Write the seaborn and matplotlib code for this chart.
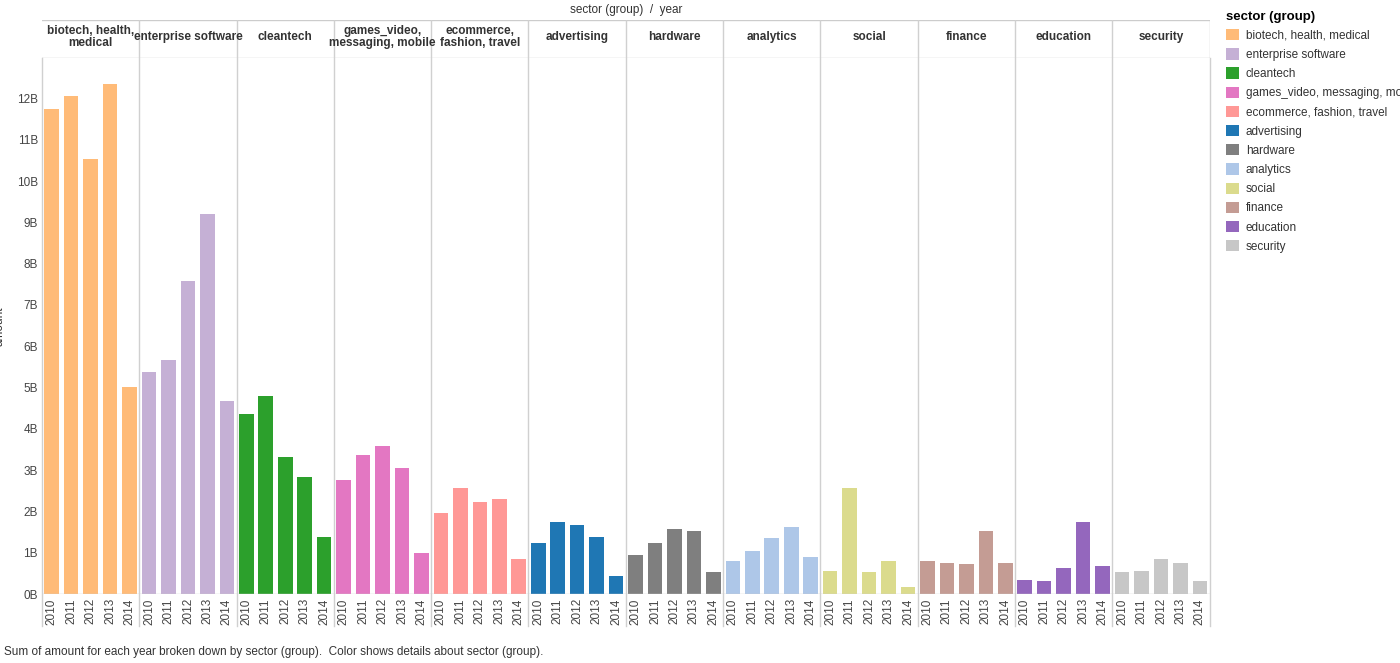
import numpy as np
import pandas as pd
import matplotlib
matplotlib.use("Agg")
import matplotlib.pyplot as plt
from matplotlib.patches import Patch
import seaborn as sns

plt.rcParams["font.family"] = "Liberation Sans"

sectors = ["biotech, health, medical", "enterprise software", "cleantech",
           "games_video, messaging, mobile", "ecommerce, fashion, travel",
           "advertising", "hardware", "analytics", "social", "finance",
           "education", "security"]
header_labels = ["biotech, health,\nmedical", "enterprise software", "cleantech",
                 "games_video,\nmessaging, mobile", "ecommerce,\nfashion, travel",
                 "advertising", "hardware", "analytics", "social", "finance",
                 "education", "security"]
years = ["2010", "2011", "2012", "2013", "2014"]
# amount in billions per sector, years 2010-2014
biotech = [11.74, 12.06, 10.53, 12.35, 5.02]
enterprise = [5.38, 5.67, 7.58, 9.20, 4.67]
cleantech = [4.35, 4.79, 3.31, 2.83, 1.38]
games = [2.76, 3.36, 3.58, 3.06, 0.99]
ecommerce = [1.96, 2.56, 2.22, 2.30, 0.85]
advertising = [1.23, 1.74, 1.66, 1.38, 0.44]
hardware = [0.94, 1.23, 1.58, 1.52, 0.53]
analytics = [0.81, 1.04, 1.35, 1.63, 0.90]
social = [0.57, 2.57, 0.53, 0.81, 0.17]
finance = [0.81, 0.74, 0.72, 1.52, 0.76]
education = [0.34, 0.31, 0.62, 1.74, 0.69]
security = [0.53, 0.56, 0.85, 0.76, 0.31]
values = [biotech, enterprise, cleantech, games, ecommerce, advertising,
          hardware, analytics, social, finance, education, security]
colors = ["#ffbb78", "#c5b0d5", "#2ca02c", "#e377c2", "#ff9896", "#1f77b4",
          "#7f7f7f", "#aec7e8", "#dbdb8d", "#c49c94", "#9467bd", "#c7c7c7"]

rows = []
for s, vals in zip(sectors, values):
    for y, v in zip(years, vals):
        rows.append({"key": f"{s}|{y}", "sector": s, "year": y, "amount": v})
df = pd.DataFrame(rows)

fig = plt.figure(figsize=(14, 6.63), dpi=100)
ax = fig.add_axes([0.03, 0.104, 0.834, 0.8085])
hax = fig.add_axes([0.03, 0.9125, 0.834, 0.0575])

sns.barplot(data=df, x="key", y="amount", hue="sector", dodge=False,
            palette=dict(zip(sectors, colors)), width=0.75, ax=ax,
            legend=False, saturation=1)
n = len(df)
ax.set_xlim(-0.5, n - 0.5)
ax.set_ylim(0, 12.98)
ax.set_yticks(range(0, 13))
ax.set_yticklabels([f"{i}B" for i in range(13)], fontsize=8.5, color="#444444")
ax.set_xticks(range(n))
ax.set_xticklabels(df["year"], rotation=90, fontsize=8.5, color="#444444")
ax.tick_params(axis="both", length=0, pad=3)
ax.set_xlabel("")
ax.set_ylabel("amount", fontsize=8.5, color="#333333", labelpad=8)
for sp in ax.spines.values():
    sp.set_visible(False)
ax.axhline(0, color="#cccccc", lw=1)

hax.set_xlim(-0.5, n - 0.5)
hax.set_ylim(0, 1)
hax.axis("off")
hax.axhline(0, color="#cccccc", lw=1)
hax.axhline(1, color="#cccccc", lw=1)
for i, lab in enumerate(header_labels):
    c = i * 5 + 2
    hax.text(c, 0.55, lab, ha="center", va="center", fontsize=8.5,
             fontweight="bold", color="#333333", linespacing=1.0)
for i in range(1, len(sectors)):
    ax.axvline(i * 5 - 0.5, color="#d0d0d0", lw=1)
    hax.axvline(i * 5 - 0.5, color="#d0d0d0", lw=1)
    ax.plot([i * 5 - 0.5] * 2, [0, -0.06], color="#d0d0d0", lw=1,
            transform=ax.get_xaxis_transform(), clip_on=False)
ax.plot([n - 0.5] * 2, [-0.06, 1], color="#d0d0d0", lw=1,
        transform=ax.get_xaxis_transform(), clip_on=False)
hax.axvline(n - 0.5, color="#d0d0d0", lw=1)
ax.plot([-0.5] * 2, [-0.06, 1], color="#d0d0d0", lw=1,
        transform=ax.get_xaxis_transform(), clip_on=False)

fig.text(0.447, 0.985, "sector (group)  /  year", ha="center", va="center",
         fontsize=8.5, color="#333333")
fig.text(0.003, 0.012, "Sum of amount for each year broken down by sector (group).  "
         "Color shows details about sector (group).", fontsize=8.5, color="#333333")

handles = [Patch(facecolor=c, label=s) for s, c in zip(sectors, colors)]
leg = fig.legend(handles=handles, loc="upper left", bbox_to_anchor=(0.868, 1.0),
                 frameon=False, fontsize=8.5, title="sector (group)",
                 title_fontproperties={"weight": "bold", "size": 9.5},
                 handlelength=1.1, handleheight=1.1, labelspacing=0.55,
                 handletextpad=0.6, alignment="left")
for t in leg.get_texts():
    t.set_color("#333333")

fig.savefig("out.png", dpi=100)
